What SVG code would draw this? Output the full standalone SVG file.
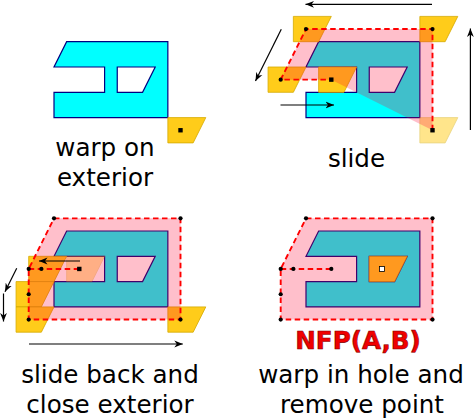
<svg xmlns="http://www.w3.org/2000/svg" xmlns:xlink="http://www.w3.org/1999/xlink" width="474" height="420" viewBox="0 0 474 420">
<style>
.A{fill:#00ffff;stroke:#000080;stroke-width:1.2;fill-rule:evenodd}
.B{fill:#ffcc1a;stroke:#d4aa00;stroke-width:0.8}
.nfp{fill:#ff0030;fill-opacity:0.25;stroke:none}
.pth{fill:none;stroke:#ff0000;stroke-width:1.9;stroke-dasharray:5.5 3.5}
.dot{fill:#000}
.arrow{fill:none;stroke:#000;stroke-width:1.2;marker-end:url(#ah)}
.lbl{font-family:"DejaVu Sans","Liberation Sans",sans-serif;font-size:24.6px;fill:#000;text-anchor:middle}
.title{font-family:"DejaVu Sans","Liberation Sans",sans-serif;font-size:24.6px;font-weight:bold;fill:#f00000;stroke:#800000;stroke-width:0.6;text-anchor:middle}
</style>
<defs>
<path id="shapeA" d="M12.65,0H113.85V75.9H0V50.6H50.6V25.3H0Z M63.25,25.3H101.2L88.55,50.6H63.25Z"/>
<path id="shapeB" d="M0,0H37.95L25.3,25.3H0Z"/>
<marker id="ah" markerWidth="10" markerHeight="8" refX="8.5" refY="4" orient="auto" markerUnits="userSpaceOnUse" viewBox="0 0 10 8">
<path d="M0,0.6 L8.5,4 L0,7.4 L2.5,4 Z" fill="#000"/>
</marker>
</defs>

<g id="panel1">
<g id="p1-A"><use xlink:href="#shapeA" href="#shapeA" x="54" y="41.7" class="A"/></g>
<g id="p1-B"><use xlink:href="#shapeB" href="#shapeB" x="167.85" y="117.6" class="B"/>
<rect x="178.3" y="128.05" width="4.4" height="4.4" class="dot"/></g>
<text class="lbl" x="105" y="156">warp on</text>
<text class="lbl" x="105" y="186">exterior</text>
</g>

<g id="panel2">
<g id="p2-A"><use xlink:href="#shapeA" href="#shapeA" x="306" y="41.7" class="A"/></g>
<g id="p2-B">
<use xlink:href="#shapeB" href="#shapeB" x="419.85" y="117.6" class="B" opacity="0.5"/>
<use xlink:href="#shapeB" href="#shapeB" x="419.85" y="16.4" class="B"/>
<use xlink:href="#shapeB" href="#shapeB" x="293.35" y="16.4" class="B"/>
<use xlink:href="#shapeB" href="#shapeB" x="268.05" y="67" class="B"/>
<use xlink:href="#shapeB" href="#shapeB" x="318.65" y="67" class="B"/>
</g>
<path class="nfp" d="M432.5,130.25V29.05H306L280.7,79.65H331.3Z"/>
<g id="p2-connectors">
<path class="pth" d="M432.5,130.25V29.05H306L280.7,79.65H331.3"/>
<circle class="dot" cx="432.5" cy="29.05" r="2.1"/>
<circle class="dot" cx="306" cy="29.05" r="2.1"/>
<circle class="dot" cx="280.7" cy="79.65" r="2.1"/>
<rect class="dot" x="430.3" y="128.05" width="4.4" height="4.4"/>
<rect class="dot" x="329.1" y="77.45" width="4.4" height="4.4"/>
<path class="arrow" d="M432,4.3H305.5"/>
<path class="arrow" d="M470.4,130V28.5"/>
<path class="arrow" d="M281.3,29.3L255.5,81"/>
<path class="arrow" d="M280.5,105H334"/>
</g>
<text class="lbl" x="356.5" y="167">slide</text>
</g>

<g id="panel3">
<g id="p3-A"><use xlink:href="#shapeA" href="#shapeA" x="54" y="231" class="A"/></g>
<g id="p3-B">
<use xlink:href="#shapeB" href="#shapeB" x="66.65" y="256.3" class="B" opacity="0.4"/>
<use xlink:href="#shapeB" href="#shapeB" x="28.7" y="256.3" class="B"/>
<use xlink:href="#shapeB" href="#shapeB" x="16.05" y="281.6" class="B"/>
<use xlink:href="#shapeB" href="#shapeB" x="16.05" y="306.9" class="B"/>
<use xlink:href="#shapeB" href="#shapeB" x="167.85" y="306.9" class="B"/>
</g>
<path class="nfp" d="M54,218.35H180.5V319.55H28.7V268.95Z"/>
<g id="p3-connectors">
<path class="pth" d="M54,218.35H180.5V319.55H28.7V268.95Z M28.7,268.95H79.3"/>
<circle class="dot" cx="54" cy="218.35" r="2.1"/>
<circle class="dot" cx="180.5" cy="218.35" r="2.1"/>
<circle class="dot" cx="180.5" cy="319.55" r="2.1"/>
<circle class="dot" cx="28.7" cy="319.55" r="2.1"/>
<circle class="dot" cx="28.7" cy="294.25" r="2.1"/>
<circle class="dot" cx="28.7" cy="268.95" r="2.1"/>
<circle class="dot" cx="41.35" cy="268.95" r="2.1"/>
<rect class="dot" x="77.1" y="266.75" width="4.4" height="4.4"/>
<path class="arrow" d="M80,261H39"/>
<path class="arrow" d="M16.7,268.3L5,291.8"/>
<path class="arrow" d="M3.5,293.5V321.5"/>
<path class="arrow" d="M29,344H182.8"/>
</g>
<text class="lbl" x="110" y="383">slide back and</text>
<text class="lbl" x="110" y="413">close exterior</text>
</g>

<g id="panel4">
<g id="p4-A"><use xlink:href="#shapeA" href="#shapeA" x="306" y="231" class="A"/></g>
<g id="p4-B"><use xlink:href="#shapeB" href="#shapeB" x="369.25" y="256.3" class="B"/></g>
<path class="nfp" d="M306,218.35H432.5V319.55H280.7V268.95Z"/>
<g id="p4-connectors">
<path class="pth" d="M306,218.35H432.5V319.55H280.7V268.95Z M280.7,268.95H331.3"/>
<circle class="dot" cx="306" cy="218.35" r="2.1"/>
<circle class="dot" cx="432.5" cy="218.35" r="2.1"/>
<circle class="dot" cx="432.5" cy="319.55" r="2.1"/>
<circle class="dot" cx="280.7" cy="319.55" r="2.1"/>
<circle class="dot" cx="280.7" cy="294.25" r="2.1"/>
<circle class="dot" cx="280.7" cy="268.95" r="2.1"/>
<circle class="dot" cx="293.35" cy="268.95" r="2.1"/>
<circle class="dot" cx="331.3" cy="268.95" r="2.1"/>
<rect x="379.4" y="266.45" width="5" height="5" fill="#fff" stroke="#000" stroke-width="0.8"/>
</g>
<text class="title" x="358" y="349">NFP(A,B)</text>
<text class="lbl" x="361" y="383">warp in hole and</text>
<text class="lbl" x="362" y="413">remove point</text>
</g>
</svg>
